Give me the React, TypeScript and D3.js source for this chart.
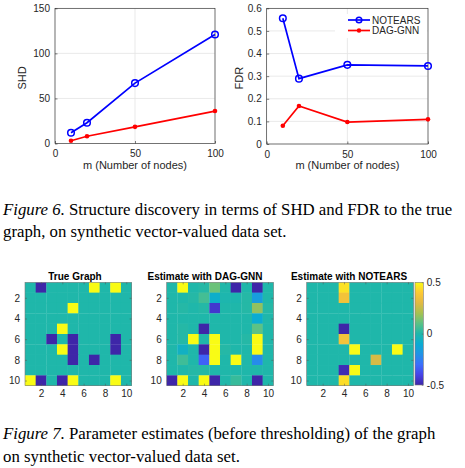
import React, { useEffect, useRef } from 'react';
import * as d3 from 'd3';

// Figure 6 data
const nodes = [10, 20, 50, 100];
const shdNotears = [12, 23, 67, 121];
const shdDagGnn = [3, 8, 18.5, 36];
const fdrNotears = [0.556, 0.289, 0.35, 0.345];
const fdrDagGnn = [0.081, 0.168, 0.097, 0.109];
const seriesNames = ['NOTEARS', 'DAG-GNN'];
const nodeTicks = [0, 50, 100];
const shdTicks = [0, 50, 100, 150];
const fdrTicks = [0, 0.1, 0.2, 0.3, 0.4, 0.5, 0.6];

// Figure 7 data (rows 1..10, columns 1..10)
const trueGraph = [
  [0, -0.5, 0, 0, 0, 0, 0.5, 0, 0.5, 0],
  [0, 0, 0, 0, 0, 0, 0, 0, 0, 0],
  [0, 0, 0, 0, 0.5, 0, 0, 0, 0, 0],
  [0, 0, 0, 0, 0, 0, 0, 0, 0, 0],
  [0, 0, 0, 0.5, 0, 0, 0, 0, 0, 0],
  [0, 0, -0.5, 0, -0.5, 0, 0, 0, -0.5, 0],
  [0, 0, 0, 0.5, -0.5, 0, 0, 0, -0.5, 0],
  [0, 0, 0, 0, -0.5, 0, -0.5, 0, 0, 0],
  [0, 0, 0, 0, 0, 0, 0, 0, 0, 0],
  [0.5, -0.5, 0, -0.5, 0.5, 0, 0, 0, 0.5, 0],
];
const dagGnnEstimate = [
  [0, 0.5, 0, 0.01, 0.12, 0, -0.5, 0, -0.5, 0],
  [0, 0, 0.01, 0.06, -0.08, -0.01, -0.01, 0.01, -0.16, 0],
  [0, 0.01, 0, 0.01, -0.44, 0, 0, 0.01, 0.17, 0.01],
  [0, 0, 0, 0, 0, 0, 0, 0, -0.1, 0],
  [0, 0.01, 0, -0.5, 0, 0, 0, 0, 0.1, 0],
  [0, 0.01, 0.5, 0, 0.5, 0, 0, 0.01, 0.5, 0],
  [0, -0.06, 0, -0.5, 0.5, 0.01, 0, 0, 0.5, 0],
  [0, 0.05, 0, -0.33, 0.5, 0, 0.5, 0, -0.22, 0],
  [0, 0, 0.01, 0.01, 0, 0, 0, 0, 0, 0],
  [-0.5, 0.5, 0, 0.5, -0.5, 0, 0.04, 0, -0.5, 0],
];
const notearsEstimate = [
  [0, 0, 0, 0.45, 0, 0, 0, 0, 0, 0],
  [0, 0, 0, 0.36, 0, 0, 0, 0, 0, 0],
  [0, 0, 0, 0, 0, 0, 0, 0, 0, 0],
  [0, 0, 0, 0, 0, 0, 0, 0, 0, 0],
  [0, 0, 0, -0.5, 0, 0, 0, 0, 0, 0],
  [0, 0, 0, 0.36, 0, 0, 0, 0, 0, 0],
  [0, 0, 0, 0, 0.5, 0, 0, 0, 0.5, 0],
  [0, 0, 0, 0, 0, 0, 0.28, 0, 0, 0],
  [0, 0, 0, -0.48, 0.5, 0, 0, 0, 0, 0],
  [0, 0, 0, 0.44, 0, 0, 0, 0, 0, 0],
];
const heatTitles = ['True Graph', 'Estimate with DAG-GNN', 'Estimate with NOTEARS'];
const cellIndex = d3.range(1, 11);
const cellTicks = [2, 4, 6, 8, 10];
const colorbarTicks = [-0.5, 0, 0.5];
const parula = ['#3e26a8', '#4743e8', '#3b6ffc', '#2193e6', '#0aacd2', '#1fb7aa',
  '#5cc285', '#a7c150', '#e2b943', '#fec934', '#f9fb15'];

const SANS = '"Liberation Sans", Arial, Helvetica, sans-serif';
const SERIF = '"Liberation Serif", "Times New Roman", serif';
const INK = '#262626';
const GRID = '#e3e3e3';

const App: React.FC = () => {
  const ref = useRef<SVGSVGElement | null>(null);

  useEffect(() => {
    const svg = d3.select(ref.current);
    svg.selectAll('*').remove();
    svg.style('font-family', SANS);

    const drawLinePanel = (
      left: number, right: number, top: number, bottom: number,
      yTicks: number[], yMax: number, notears: number[], dag: number[],
      yLabel: string, yLabelX: number, fmt: (v: number) => string, legend: boolean,
    ) => {
      const x = d3.scaleLinear().domain([0, 100]).range([left, right]);
      const y = d3.scaleLinear().domain([0, yMax]).range([bottom, top]);
      const g = svg.append('g');

      // grid
      g.append('g').selectAll('line.gx').data(nodeTicks).enter().append('line')
        .attr('x1', d => x(d)).attr('x2', d => x(d)).attr('y1', top).attr('y2', bottom)
        .attr('stroke', GRID).attr('stroke-width', 0.8);
      g.append('g').selectAll('line.gy').data(yTicks).enter().append('line')
        .attr('y1', d => y(d)).attr('y2', d => y(d)).attr('x1', left).attr('x2', right)
        .attr('stroke', GRID).attr('stroke-width', 0.8);

      // axes
      const ax = g.append('g').attr('transform', `translate(0,${bottom})`)
        .call(d3.axisBottom(x).tickValues(nodeTicks).tickSizeInner(-2.5).tickSizeOuter(0).tickPadding(6.5));
      const ay = g.append('g').attr('transform', `translate(${left},0)`)
        .call(d3.axisLeft(y).tickValues(yTicks).tickFormat(d => fmt(+d)).tickSizeInner(-2.5).tickSizeOuter(0).tickPadding(5));
      [ax, ay].forEach(a => {
        a.select('.domain').remove();
        a.selectAll('line').attr('stroke', INK).attr('stroke-width', 0.6);
        a.selectAll('text').attr('fill', INK).style('font-size', '10px').style('font-family', SANS);
      });

      // box
      g.append('rect').attr('x', left).attr('y', top).attr('width', right - left).attr('height', bottom - top)
        .attr('fill', 'none').attr('stroke', INK).attr('stroke-width', 0.6);

      // lines
      const line = d3.line<number>().x((_, i) => x(nodes[i])).y(d => y(d));
      g.append('path').datum(dag).attr('d', line).attr('fill', 'none')
        .attr('stroke', '#ff0000').attr('stroke-width', 1.7);
      g.selectAll('circle.dag').data(dag).enter().append('circle')
        .attr('cx', (_, i) => x(nodes[i])).attr('cy', d => y(d)).attr('r', 2.3).attr('fill', '#ff0000');
      g.append('path').datum(notears).attr('d', line).attr('fill', 'none')
        .attr('stroke', '#0000ff').attr('stroke-width', 1.7);
      g.selectAll('circle.not').data(notears).enter().append('circle')
        .attr('cx', (_, i) => x(nodes[i])).attr('cy', d => y(d)).attr('r', 3.3)
        .attr('fill', 'none').attr('stroke', '#0000ff').attr('stroke-width', 1.5);

      // labels
      g.append('text').attr('x', (left + right) / 2).attr('y', 169).attr('text-anchor', 'middle')
        .style('font-size', '11px').attr('fill', INK).text('m (Number of nodes)');
      g.append('text').attr('transform', `translate(${yLabelX},${(top + bottom) / 2 + 2}) rotate(-90)`)
        .attr('text-anchor', 'middle').style('font-size', '11px').attr('fill', INK).text(yLabel);

      if (legend) {
        const lg = g.append('g');
        lg.append('rect').attr('x', 335).attr('y', 14).attr('width', right - 336).attr('height', 24).attr('fill', '#fff');
        const colors = ['#0000ff', '#ff0000'];
        seriesNames.forEach((name, i) => {
          const yy = 20 + i * 10.5;
          lg.append('line').attr('x1', 348).attr('x2', 370).attr('y1', yy).attr('y2', yy)
            .attr('stroke', colors[i]).attr('stroke-width', 1.7);
          if (i === 0) {
            lg.append('circle').attr('cx', 359).attr('cy', yy).attr('r', 2.8)
              .attr('fill', 'none').attr('stroke', colors[i]).attr('stroke-width', 1.5);
          } else {
            lg.append('circle').attr('cx', 359).attr('cy', yy).attr('r', 2.2).attr('fill', colors[i]);
          }
          lg.append('text').attr('x', 372).attr('y', yy).attr('dy', '0.35em')
            .style('font-size', '10px').attr('fill', INK).text(name);
        });
      }
    };

    drawLinePanel(55, 215, 8.3, 143.5, shdTicks, 150, shdNotears, shdDagGnn, 'SHD', 25.5, d => String(d), false);
    drawLinePanel(266.7, 428, 8.3, 144, fdrTicks, 0.6, fdrNotears, fdrDagGnn, 'FDR', 243, d => String(+d.toFixed(1)), true);

    // heatmaps
    const color = d3.scaleLinear<string>()
      .domain(parula.map((_, i) => -0.5 + i / (parula.length - 1)))
      .range(parula).clamp(true);

    const panels = [
      { data: trueGraph, left: 25, titleX: 75 },
      { data: dagGnnEstimate, left: 166.7, titleX: 205 },
      { data: notearsEstimate, left: 306.7, titleX: 349 },
    ];
    const top = 282.3;
    const bottom = 385.7;
    const size = 106.6;

    panels.forEach((p, k) => {
      const xb = d3.scaleBand<number>().domain(cellIndex).range([p.left, p.left + size]);
      const yb = d3.scaleBand<number>().domain(cellIndex).range([top, bottom]);
      const g = svg.append('g');
      p.data.forEach((row, r) => {
        g.selectAll(null).data(row).enter().append('rect')
          .attr('x', (_, c) => xb(c + 1)!)
          .attr('y', yb(r + 1)!)
          .attr('width', xb.bandwidth() + 0.3)
          .attr('height', yb.bandwidth() + 0.3)
          .attr('fill', d => color(d));
      });
      g.append('rect').attr('x', p.left).attr('y', top).attr('width', size).attr('height', bottom - top)
        .attr('fill', 'none').attr('stroke', '#7a7a7a').attr('stroke-width', 0.6);

      const xs = d3.scaleLinear().domain([0.5, 10.5]).range([p.left, p.left + size]);
      const ys = d3.scaleLinear().domain([0.5, 10.5]).range([top, bottom]);
      const ax = g.append('g').attr('transform', `translate(0,${bottom})`)
        .call(d3.axisBottom(xs).tickValues(cellTicks).tickSizeInner(-2).tickSizeOuter(0).tickPadding(4.6));
      const ay = g.append('g').attr('transform', `translate(${p.left},0)`)
        .call(d3.axisLeft(ys).tickValues(cellTicks).tickSizeInner(-2).tickSizeOuter(0).tickPadding(5));
      const ayr = g.append('g').attr('transform', `translate(${p.left + size},0)`)
        .call(d3.axisRight(ys).tickValues(cellTicks).tickFormat(() => '').tickSizeInner(-2).tickSizeOuter(0));
      const axt = g.append('g').attr('transform', `translate(0,${top})`)
        .call(d3.axisTop(xs).tickValues(cellTicks).tickFormat(() => '').tickSizeInner(-2).tickSizeOuter(0));
      [ax, ay, ayr, axt].forEach(a => {
        a.select('.domain').remove();
        a.selectAll('line').attr('stroke', '#555').attr('stroke-width', 0.5);
        a.selectAll('text').attr('fill', INK).style('font-size', '10px').style('font-family', SANS);
      });

      g.append('text').attr('x', p.titleX).attr('y', 280).attr('text-anchor', 'middle')
        .style('font-size', '10px').style('font-weight', 'bold').attr('fill', '#000').text(heatTitles[k]);
    });

    // colorbar
    const cbLeft = 415;
    const cbRight = 423.3;
    const cbTop = 282.3;
    const cbBottom = 385;
    const cb = d3.scaleLinear().domain([-0.5, 0.5]).range([cbBottom, cbTop]);
    const defs = svg.append('defs');
    const grad = defs.append('linearGradient').attr('id', 'parula')
      .attr('x1', 0).attr('y1', 1).attr('x2', 0).attr('y2', 0);
    parula.forEach((c, i) => {
      grad.append('stop').attr('offset', i / (parula.length - 1)).attr('stop-color', c);
    });
    svg.append('rect').attr('x', cbLeft).attr('y', cbTop).attr('width', cbRight - cbLeft)
      .attr('height', cbBottom - cbTop).attr('fill', 'url(#parula)')
      .attr('stroke', '#7a7a7a').attr('stroke-width', 0.6);
    const acb = svg.append('g').attr('transform', `translate(${cbRight},0)`)
      .call(d3.axisRight(cb).tickValues(colorbarTicks).tickFormat(d => String(+d)).tickSizeInner(-1.5).tickSizeOuter(0).tickPadding(3.5));
    acb.select('.domain').remove();
    acb.selectAll('line').attr('stroke', '#555').attr('stroke-width', 0.5);
    acb.selectAll('text').attr('fill', INK).style('font-size', '10px').style('font-family', SANS);

    // captions
    const caption = (label: string, lines: string[], y0: number) => {
      lines.forEach((ln, i) => {
        const t = svg.append('text').attr('x', 3).attr('y', y0 + i * 22.5)
          .style('font-family', SERIF).style('font-size', '16.8px').attr('fill', '#000');
        if (i === 0) {
          t.append('tspan').style('font-style', 'italic').text(label);
          t.append('tspan').text(ln);
        } else {
          t.text(ln);
        }
      });
    };
    caption('Figure 6.', [' Structure discovery in terms of SHD and FDR to the true',
      'graph, on synthetic vector-valued data set.'], 214.5);
    caption('Figure 7.', [' Parameter estimates (before thresholding) of the graph',
      'on synthetic vector-valued data set.'], 439);
  }, []);

  return (
    <svg ref={ref} width={465} height={468}
      style={{ position: 'absolute', left: 0, top: 0, background: '#fff' }} />
  );
};

export default App;
